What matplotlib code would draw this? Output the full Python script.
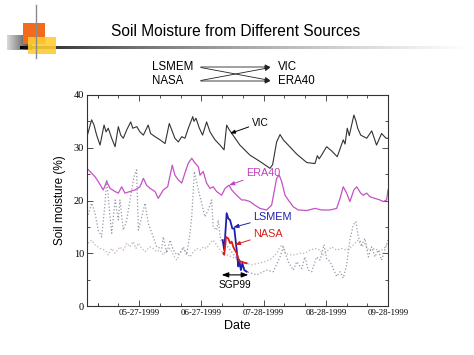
"""Soil moisture from different sources (VIC, ERA40, LSMEM, NASA), May-Sep 1999."""

import numpy as np
import matplotlib
matplotlib.use("Agg")
import matplotlib.pyplot as plt
from matplotlib.ticker import FixedLocator, MultipleLocator

# x values are days after 1999-05-01
vic_day = [0, 2.3, 3.5, 4.8, 6.5, 8.5, 9.5, 10.6, 12.3, 14.0, 15.6, 16.8, 18.1, 19.8, 21.8, 22.8,
           24.8, 26.4, 28.1, 30.5, 31.7, 33.9, 36.4, 38.9, 41.0, 42.2, 43.8, 45.5, 47.2, 48.8,
           50.5, 52.7, 53.3, 54.3, 56.0, 57.6, 59.6, 61.3, 63.8, 66.3, 68.3, 69.6, 70.9, 76.2,
           81.2, 86.2, 91.2, 92.5, 94.5, 96.2, 97.8, 100.3, 104.5, 109.5, 113.6, 114.8, 115.7,
           116.9, 119.4, 121.9, 124.7, 127.7, 128.6, 129.7, 130.7, 133.0, 134.0, 134.9, 136.4,
           139.4, 141.9, 144.3, 146.8, 149.0, 150]
vic_sm = [32.1, 35.3, 34.3, 32.4, 30.5, 34.3, 33.0, 33.7, 31.8, 30.2, 34.0, 32.4, 31.8, 33.4, 34.9,
          33.7, 34.0, 33.0, 32.4, 34.3, 32.7, 32.1, 31.5, 30.8, 34.6, 33.4, 31.8, 31.1, 32.1, 31.8,
          33.7, 35.9, 35.0, 35.6, 33.7, 32.4, 34.9, 33.0, 31.5, 30.5, 29.6, 34.3, 33.4, 30.5,
          28.6, 27.4, 26.1, 26.8, 31.1, 32.5, 31.5, 30.5, 28.8, 27.2, 27.0, 28.5, 27.9,
          28.6, 30.2, 29.4, 28.3, 31.5, 30.7, 33.7, 32.3, 36.2, 35.1, 33.7, 32.4,
          31.8, 33.2, 30.5, 32.7, 31.8, 31.8]

era_day = [0, 1.5, 4.0, 5.6, 8.1, 9.8, 11.5, 14.0, 15.6, 17.3, 18.9, 21.4, 23.9, 26.4, 28.1, 29.7,
           31.4, 33.9, 35.5, 38.0, 40.2, 42.5, 43.8, 45.5, 47.2, 48.8, 50.5, 52.2, 53.8, 55.5,
           56.3, 57.9, 59.6, 61.3, 62.9, 64.6, 67.1, 68.8, 70.8, 72.1, 74.6, 77.1, 78.7, 81.2,
           83.7, 86.2, 89.5, 92.0, 94.5, 95.8, 97.0, 98.7, 100.3, 102.8, 105.3, 109.5, 113.6,
           116.9, 121.1, 124.4, 126.1, 127.7, 129.4, 131.0, 133.0, 134.4, 136.4, 137.7, 139.4,
           141.0, 143.5, 146.0, 147.6, 149.3, 150]
era_sm = [26.1, 25.5, 24.5, 23.6, 22.0, 23.6, 22.3, 21.7, 21.4, 22.6, 21.4, 21.7, 22.0, 22.6, 24.2,
          22.9, 22.3, 21.7, 20.4, 22.0, 22.6, 26.7, 24.8, 23.9, 23.3, 25.2, 27.1, 28.0, 27.1, 26.4,
          24.8, 25.5, 23.3, 22.3, 22.6, 21.7, 21.0, 22.3, 22.9, 22.0, 21.0, 20.1, 20.1, 19.8,
          19.1, 18.5, 18.2, 19.1, 24.2, 24.8, 23.6, 21.0, 20.1, 18.8, 18.2, 18.1, 18.5,
          18.2, 18.2, 18.5, 20.4, 22.6, 21.4, 19.8, 22.0, 22.6, 21.4, 21.0, 21.4,
          20.7, 20.4, 20.1, 19.8, 20.1, 22.0]

# SGP99 period
lsmem_day = [67.6, 68.4, 69.6, 70.4, 71.3, 72.4, 73.4, 74.6, 75.4, 75.9, 76.7, 77.4, 78.4, 79.6]
lsmem_sm = [12.5, 10.6, 17.6, 16.6, 16.3, 14.7, 14.7, 10.6, 7.5, 8.7, 6.8, 8.1, 6.8, 6.5]
nasa_day = [67.9, 68.4, 69.3, 70.4, 71.3, 72.1, 72.9, 73.7, 74.6, 75.4, 76.2, 77.1, 78.4, 79.6]
nasa_sm = [10.0, 9.7, 13.1, 12.8, 11.9, 12.2, 11.2, 10.6, 10.0, 9.0, 8.4, 8.4, 8.2, 8.1]

# dotted extensions outside SGP99
lsmem_ext_day = [0.6, 2.3, 4.0, 5.6, 7.3, 9.0, 9.8, 11.5, 12.3, 14.0, 15.6, 16.4, 18.1, 19.8,
                 21.4, 23.4, 24.7, 25.6, 27.3, 28.9, 30.5, 33.0, 34.7, 37.2, 38.0, 39.7, 41.4,
                 43.0, 44.7, 46.3, 48.0, 49.7, 51.3, 52.2, 53.5, 55.5, 57.1, 58.8, 60.4, 62.1,
                 62.9, 64.6, 65.4, 66.6, 67.6,
                 79.6, 84.6, 89.5, 92.8, 96.2, 97.8, 100.3, 102.8, 104.5, 107.0, 108.6, 110.3,
                 112.0, 114.4, 116.1, 118.1, 119.4, 121.1, 122.7, 124.4, 126.1, 127.7, 129.4,
                 131.0, 132.7, 134.0, 135.2, 136.9, 138.5, 140.2, 141.9, 143.5, 145.1, 146.8,
                 148.4, 150]
lsmem_ext_sm = [17.3, 19.5, 17.6, 14.4, 13.1, 19.5, 24.0, 16.9, 13.8, 20.1, 16.3, 20.1, 14.4, 16.3,
                20.1, 24.5, 25.8, 14.4, 16.9, 19.5, 15.7, 13.1, 11.2, 10.9, 13.1, 10.0, 12.5,
                10.6, 9.7, 10.0, 11.2, 9.7, 13.8, 16.9, 25.5, 22.0, 19.5, 16.9, 18.2, 20.1,
                15.0, 14.4, 16.3, 12.5, 12.5,
                6.5, 5.9, 6.8, 6.5, 9.3, 11.2, 8.4, 6.8, 8.4, 7.1, 9.3, 6.8,
                6.5, 9.3, 8.7, 11.6, 9.0, 8.4, 7.1, 5.6, 6.5, 5.3, 7.8,
                12.5, 15.4, 16.0, 13.1, 11.6, 12.8, 9.3, 11.2, 9.3, 10.6, 8.7,
                10.6, 12.5]
nasa_ext_day = [0.6, 2.3, 4.0, 6.5, 9.0, 10.6, 12.3, 14.0, 16.4, 18.1, 19.8, 21.4, 23.1, 24.4,
                25.6, 27.3, 28.9, 31.4, 33.0, 34.7, 36.4, 38.0, 39.7, 41.4, 43.0, 44.7, 46.3,
                48.0, 49.7, 51.3, 53.0, 54.7, 56.3, 58.0, 59.6, 61.3, 62.9, 64.6, 66.3, 67.9,
                79.6, 82.1, 85.4, 88.7, 92.0, 94.5, 96.2, 97.3, 98.7, 101.1, 103.6, 106.1, 108.6,
                111.1, 113.6, 116.1, 117.7, 119.4, 121.9, 124.4, 126.9, 129.4, 131.9, 133.5,
                135.2, 136.9, 138.5, 140.2, 143.5, 146.0, 148.6, 150]
nasa_ext_sm = [11.9, 12.5, 11.6, 10.9, 10.6, 9.7, 10.9, 10.0, 11.2, 10.6, 11.9, 11.2, 12.2, 10.9,
               11.9, 10.9, 10.3, 11.2, 10.9, 10.3, 10.6, 9.7, 10.6, 10.9, 9.7, 8.7, 10.0,
               10.9, 10.0, 9.3, 10.3, 10.9, 10.6, 11.2, 10.9, 11.9, 12.5, 11.6, 10.6, 10.0,
               8.1, 7.8, 8.1, 8.4, 9.0, 10.0, 11.2, 11.6, 10.0, 9.7, 9.7, 10.0, 10.0,
               10.6, 10.9, 10.6, 9.7, 10.3, 11.2, 10.6, 10.9, 10.6, 11.2, 11.9,
               12.5, 11.2, 11.9, 10.6, 10.9, 10.3, 11.2, 11.9]

tick_days = [26, 57, 88, 119, 150]
tick_labels = ["05-27-1999", "06-27-1999", "07-28-1999", "08-28-1999", "09-28-1999"]

W, H = 474, 355
fig = plt.figure(figsize=(W / 100, H / 100), dpi=100)

# slide decoration, drawn in pixel units on a full-figure axes
deco = fig.add_axes([0, 0, 1, 1], zorder=-1)
deco.axis("off")
deco.add_patch(plt.Rectangle((23, 23), 22, 21, color="#f26a1b", lw=0))
deco.add_patch(plt.Rectangle((28, 37), 28, 17, color="#ffcc33", lw=0, alpha=0.9))
grad = np.linspace(0.85, 0.25, 50).reshape(1, -1)
deco.imshow(grad, extent=[7, 32, 50, 35], cmap="gray", vmin=0, vmax=1, aspect="auto")
fade = np.linspace(0.0, 1.0, 300).reshape(1, -1) ** 0.6
deco.imshow(fade, extent=[20, 470, 49.5, 46.5], cmap="gray", vmin=0, vmax=1, aspect="auto")
deco.plot([36, 36], [5, 58], color="#8a8a8a", lw=1)
deco.set_xlim(0, W)
deco.set_ylim(H, 0)

fig.text(236 / W, 1 - 32 / H, "Soil Moisture from Different Sources", ha="center", va="center",
         fontsize=11.2, family="Liberation Sans")

# legend diagram above the plot
for name, y in [("LSMEM", 67), ("NASA", 81)]:
    fig.text(152 / W, 1 - y / H, name, ha="left", va="center", fontsize=8.3, family="Liberation Sans")
for name, y in [("VIC", 67), ("ERA40", 81)]:
    fig.text(278 / W, 1 - y / H, name, ha="left", va="center", fontsize=8.3, family="Liberation Sans")
for y0 in (67, 81):
    for y1 in (67, 81):
        fig.add_artist(matplotlib.patches.FancyArrowPatch(
            (198 / W, 1 - y0 / H), (273 / W, 1 - y1 / H), transform=fig.transFigure,
            arrowstyle="-|>,head_length=3,head_width=1.5", color="#222222", lw=0.6))

ax = fig.add_axes([87 / W, 1 - 306 / H, 301 / W, 211 / H])
ax.plot(nasa_ext_day, nasa_ext_sm, ls=":", color="#bfaeb6", lw=0.9)
ax.plot(lsmem_ext_day, lsmem_ext_sm, ls=":", color="#9597aa", lw=0.9)
ax.plot(vic_day, vic_sm, color="#333333", lw=0.8)
ax.plot(era_day, era_sm, color="#c452c4", lw=0.9)
ax.plot(lsmem_day, lsmem_sm, color="#1f1fb0", lw=1.3)
ax.plot(nasa_day, nasa_sm, color="#d42020", lw=1.3)

ax.set_xlim(0, 150)
ax.set_ylim(0, 40)
ax.xaxis.set_major_locator(FixedLocator(tick_days))
ax.xaxis.set_minor_locator(FixedLocator([d + k * 31 / 3 for d in [-5] + tick_days for k in (1, 2)]
                                        + [26 - 31 * 2 / 3]))
ax.set_xticklabels(tick_labels, fontsize=6.3, family="Liberation Serif")
ax.yaxis.set_major_locator(MultipleLocator(10))
ax.yaxis.set_minor_locator(MultipleLocator(5))
for lab in ax.get_yticklabels():
    lab.set_fontsize(7.5)
    lab.set_family("Liberation Serif")
ax.tick_params(which="both", direction="in", top=True, right=True, width=0.6, color="#333333", pad=2)
ax.tick_params(which="major", length=4)
ax.tick_params(which="minor", length=2.5)
for s in ax.spines.values():
    s.set_color("#333333")
    s.set_linewidth(0.8)

ax.set_xlabel("Date", fontsize=9, family="Liberation Sans", labelpad=2)
ax.set_ylabel("Soil moisture (%)", fontsize=8.5, family="Liberation Sans", labelpad=6)

arrow = dict(arrowstyle="-|>,head_length=0.4,head_width=0.15", lw=0.7, shrinkA=0, shrinkB=0)
ax.annotate("VIC", xy=(71.3, 32.7), xytext=(82.0, 34.7), fontsize=7.3, family="Liberation Sans",
            va="center", color="black", arrowprops=dict(arrow, color="black"))
ax.annotate("ERA40", xy=(70.8, 22.9), xytext=(79.2, 25.2), fontsize=7.8, family="Liberation Sans",
            va="center", color="#c040c0", arrowprops=dict(arrow, color="#c040c0"))
ax.annotate("LSMEM", xy=(72.9, 14.9), xytext=(82.7, 16.9), fontsize=7.8, family="Liberation Sans",
            va="center", color="#1f1fb0", arrowprops=dict(arrow, color="#1f1fb0"))
ax.annotate("NASA", xy=(73.7, 11.6), xytext=(82.7, 13.6), fontsize=7.8, family="Liberation Sans",
            va="center", color="#d42020", arrowprops=dict(arrow, color="#d42020"))
ax.annotate("", xy=(67.1, 5.9), xytext=(80.4, 5.9),
            arrowprops=dict(arrowstyle="<|-|>,head_length=0.4,head_width=0.15", lw=0.8,
                            color="black", shrinkA=0, shrinkB=0))
ax.text(73.7, 3.9, "SGP99", ha="center", va="center", fontsize=7.3, family="Liberation Sans")

fig.savefig("out.png", dpi=100)
